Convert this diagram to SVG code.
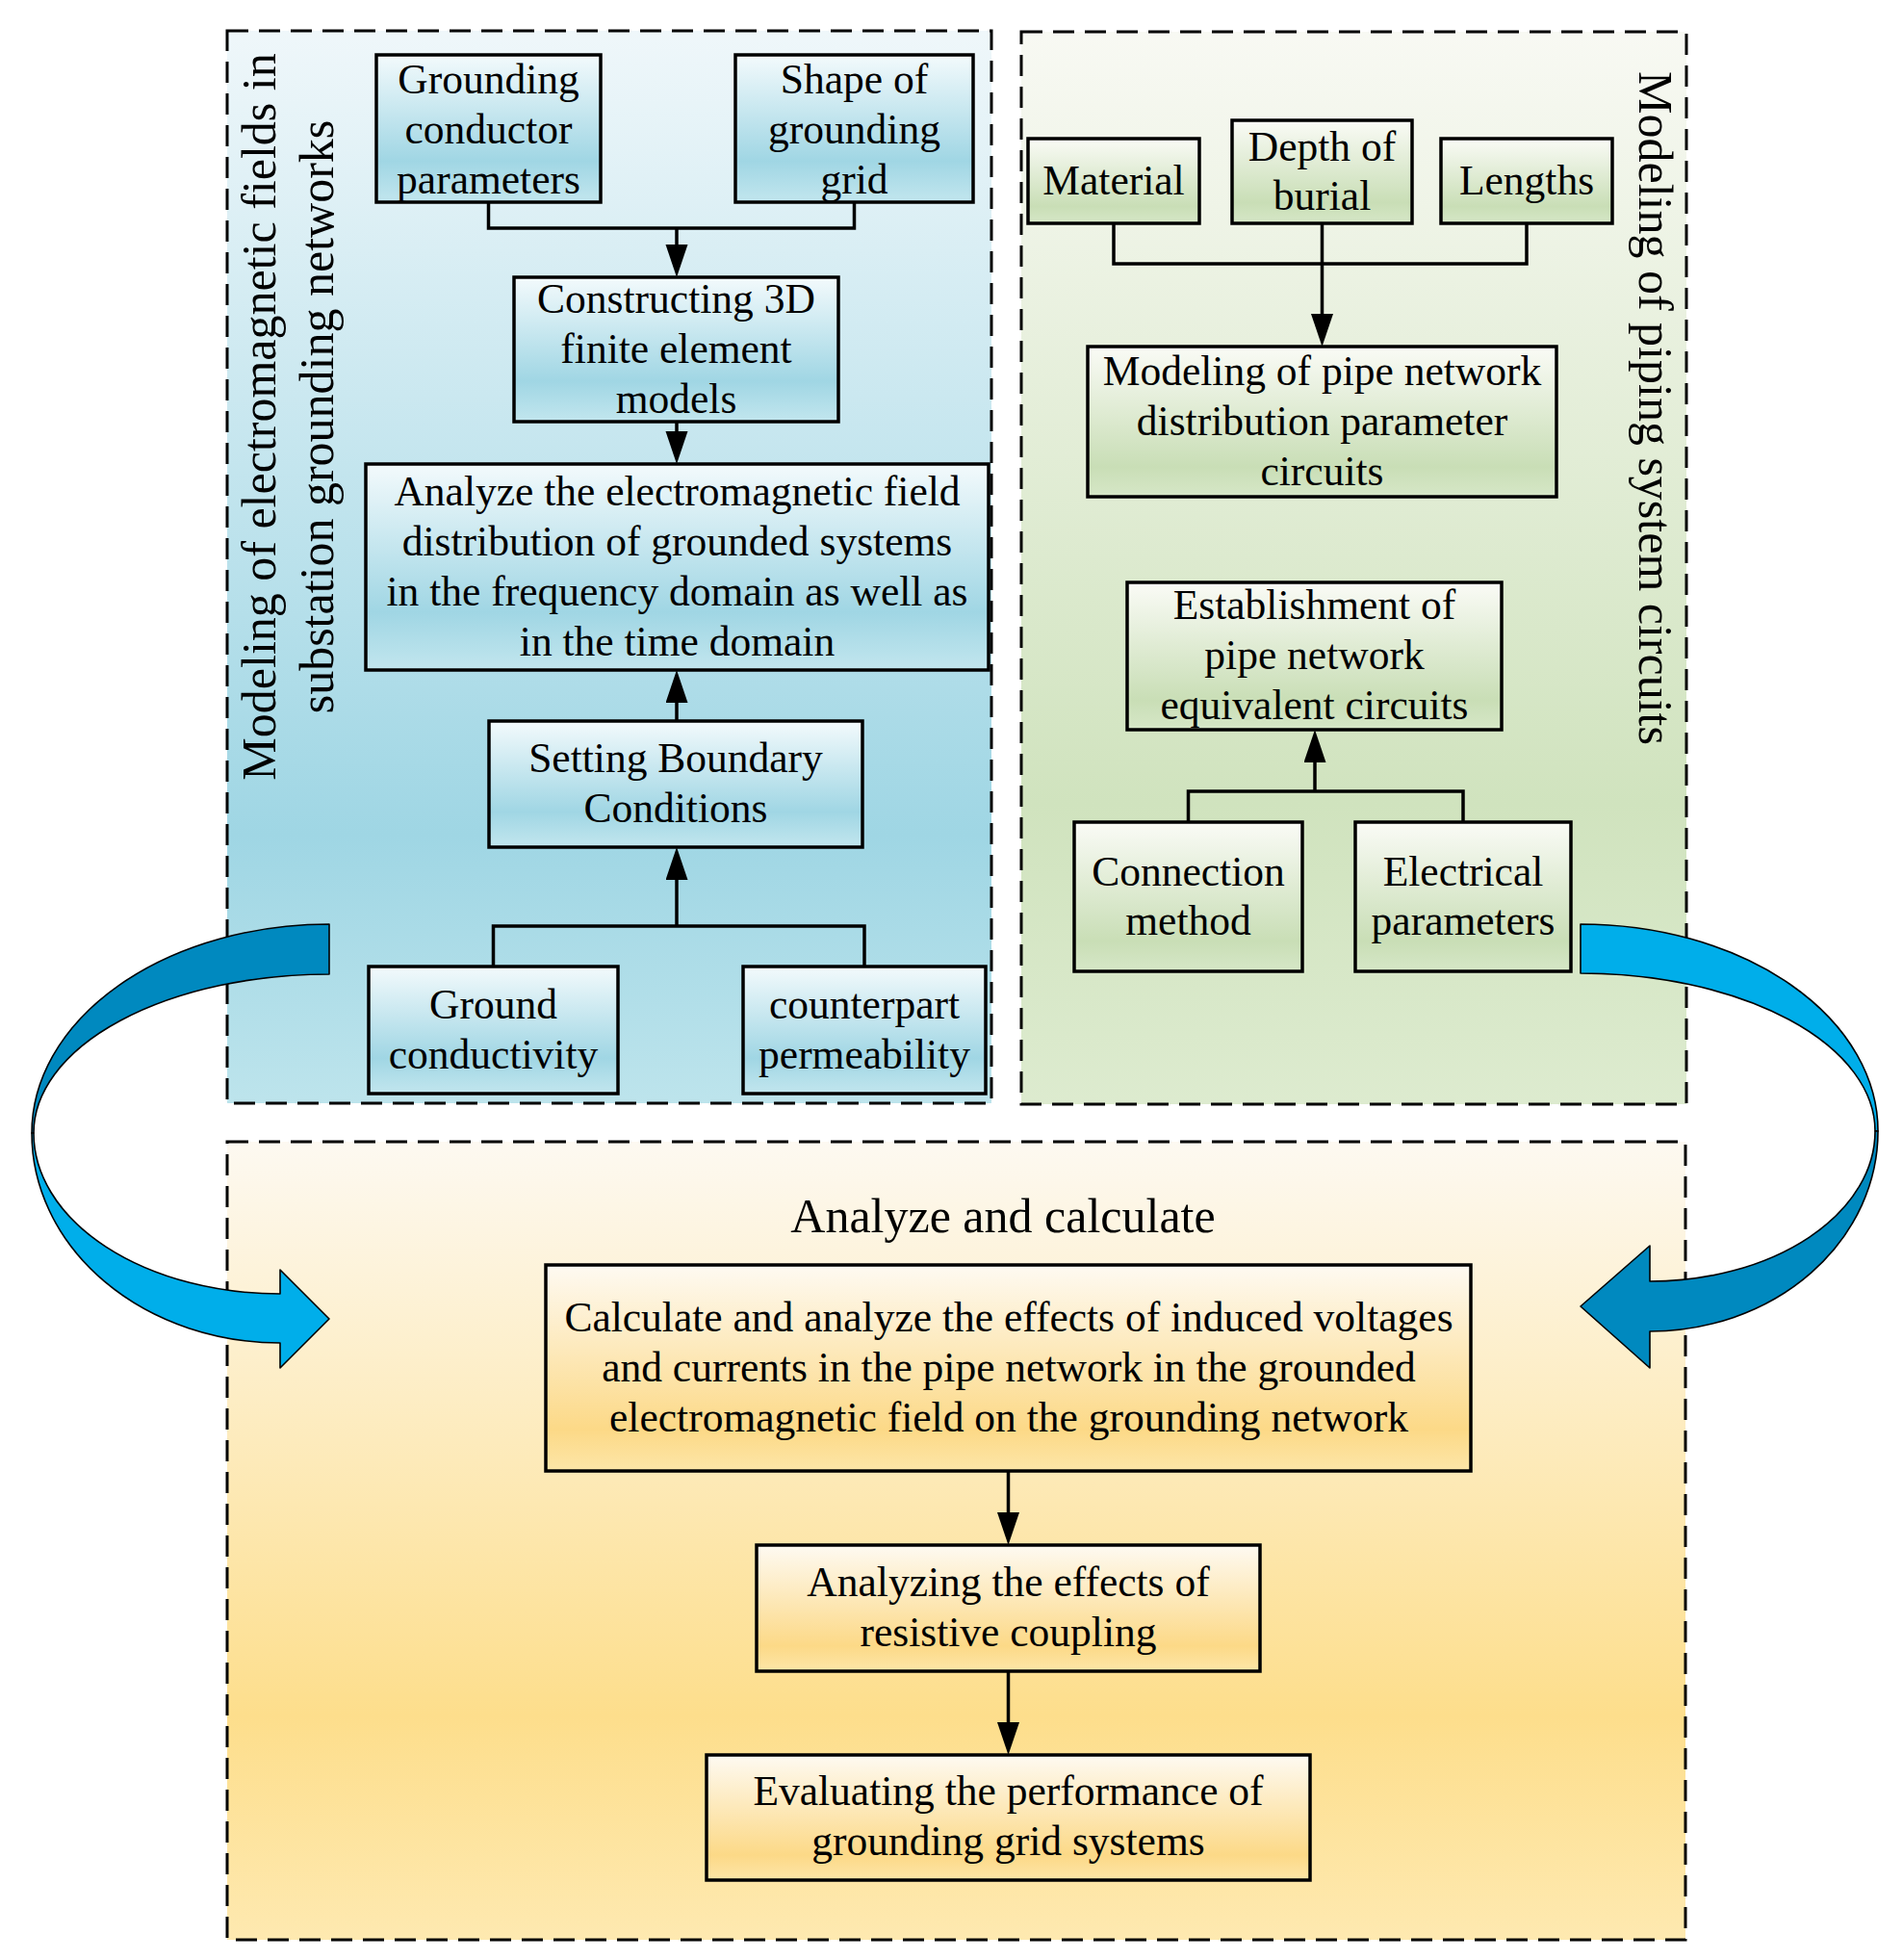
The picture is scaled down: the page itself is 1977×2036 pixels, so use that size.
<svg xmlns="http://www.w3.org/2000/svg" width="1977" height="2036" viewBox="0 0 1977 2036">
<defs>
<linearGradient id="gPanelBlue" x1="0" y1="0" x2="0" y2="1">
<stop offset="0" stop-color="#EFF7FA"/><stop offset="0.75" stop-color="#9FD6E4"/><stop offset="1" stop-color="#BDE4EC"/>
</linearGradient>
<linearGradient id="gBoxBlue" x1="0" y1="0" x2="0" y2="1">
<stop offset="0" stop-color="#F3FAFC"/><stop offset="0.72" stop-color="#A0D6E4"/><stop offset="1" stop-color="#C2E6EE"/>
</linearGradient>
<linearGradient id="gPanelGreen" x1="0" y1="0" x2="0" y2="1">
<stop offset="0" stop-color="#F8F9F3"/><stop offset="0.72" stop-color="#D0E3BE"/><stop offset="1" stop-color="#DDEBCF"/>
</linearGradient>
<linearGradient id="gBoxGreen" x1="0" y1="0" x2="0" y2="1">
<stop offset="0" stop-color="#FAFBF6"/><stop offset="0.8" stop-color="#C9DEB6"/><stop offset="1" stop-color="#D6E7C7"/>
</linearGradient>
<linearGradient id="gPanelYellow" x1="0" y1="0" x2="0" y2="1">
<stop offset="0" stop-color="#FDF9F1"/><stop offset="0.72" stop-color="#FDDE8C"/><stop offset="1" stop-color="#FEE9B0"/>
</linearGradient>
<linearGradient id="gBoxYellow" x1="0" y1="0" x2="0" y2="1">
<stop offset="0" stop-color="#FEFAF2"/><stop offset="0.8" stop-color="#FCD987"/><stop offset="1" stop-color="#FDE6A8"/>
</linearGradient>
<marker id="ah" markerUnits="userSpaceOnUse" markerWidth="36" markerHeight="24" refX="24" refY="11.5" orient="auto">
<path d="M0,0 L34,11.5 L0,23 Z" fill="#000"/>
</marker>
<style>
.panel{stroke:#000;stroke-width:3;stroke-dasharray:22 11}
.box{stroke:#000;stroke-width:3.5}
.blue{fill:url(#gBoxBlue)}
.green{fill:url(#gBoxGreen)}
.yellow{fill:url(#gBoxYellow)}
text{font-family:"Liberation Serif","Times New Roman",serif;fill:#000}
.t{font-size:43.5px;text-anchor:middle}
.title{font-size:50px;text-anchor:middle}
.conn{fill:none;stroke:#000;stroke-width:3.5}
.arr{stroke:#000;stroke-width:1.6;stroke-linejoin:round}
</style>
</defs>
<rect width="1977" height="2036" fill="#fff"/>

<g id="panel-left">
<rect class="panel" x="236" y="32" width="794" height="1114" fill="url(#gPanelBlue)"/>
<text class="title" transform="translate(286,433) rotate(-90)">Modeling of electromagnetic fields in</text>
<text class="title" transform="translate(346,433) rotate(-90)">substation grounding networks</text>
</g>
<g id="panel-right">
<rect class="panel" x="1061" y="33" width="691" height="1114" fill="url(#gPanelGreen)"/>
<text class="title" transform="translate(1703,424) rotate(90)">Modeling of piping system circuits</text>
</g>
<g id="panel-bottom">
<rect class="panel" x="236" y="1186" width="1515" height="829" fill="url(#gPanelYellow)"/>
<text class="title" x="1042" y="1280">Analyze and calculate</text>
</g>

<g id="node-grounding-conductor">
<rect class="box blue" x="391" y="57" width="233" height="153"/>
<text class="t" x="507.5" y="97">Grounding</text>
<text class="t" x="507.5" y="149">conductor</text>
<text class="t" x="507.5" y="201">parameters</text>
</g>
<g id="node-shape-grid">
<rect class="box blue" x="764" y="57" width="247" height="153"/>
<text class="t" x="887.5" y="97">Shape of</text>
<text class="t" x="887.5" y="149">grounding</text>
<text class="t" x="887.5" y="201">grid</text>
</g>
<g id="node-constructing">
<rect class="box blue" x="534" y="288" width="337" height="150"/>
<text class="t" x="702.5" y="325">Constructing 3D</text>
<text class="t" x="702.5" y="377">finite element</text>
<text class="t" x="702.5" y="429">models</text>
</g>
<g id="node-analyze-field">
<rect class="box blue" x="380" y="482" width="647" height="214"/>
<text class="t" x="703.5" y="525">Analyze the electromagnetic field</text>
<text class="t" x="703.5" y="577">distribution of grounded systems</text>
<text class="t" x="703.5" y="629">in the frequency domain as well as</text>
<text class="t" x="703.5" y="681">in the time domain</text>
</g>
<g id="node-boundary">
<rect class="box blue" x="508" y="749" width="388" height="131"/>
<text class="t" x="702" y="802">Setting Boundary</text>
<text class="t" x="702" y="854">Conditions</text>
</g>
<g id="node-ground-conductivity">
<rect class="box blue" x="383" y="1004" width="259" height="132"/>
<text class="t" x="512.5" y="1058">Ground</text>
<text class="t" x="512.5" y="1110">conductivity</text>
</g>
<g id="node-permeability">
<rect class="box blue" x="772" y="1004" width="252" height="132"/>
<text class="t" x="898" y="1058">counterpart</text>
<text class="t" x="898" y="1110">permeability</text>
</g>

<g id="node-material">
<rect class="box green" x="1068" y="144" width="178" height="88"/>
<text class="t" x="1157" y="202">Material</text>
</g>
<g id="node-depth">
<rect class="box green" x="1280" y="125" width="187" height="107"/>
<text class="t" x="1373.5" y="167">Depth of</text>
<text class="t" x="1373.5" y="218">burial</text>
</g>
<g id="node-lengths">
<rect class="box green" x="1497" y="144" width="178" height="88"/>
<text class="t" x="1586" y="202">Lengths</text>
</g>
<g id="node-pipe-model">
<rect class="box green" x="1130" y="360" width="487" height="156"/>
<text class="t" x="1373.5" y="400">Modeling of pipe network</text>
<text class="t" x="1373.5" y="452">distribution parameter</text>
<text class="t" x="1373.5" y="504">circuits</text>
</g>
<g id="node-establishment">
<rect class="box green" x="1171" y="605" width="389" height="153"/>
<text class="t" x="1365.5" y="643">Establishment of</text>
<text class="t" x="1365.5" y="695">pipe network</text>
<text class="t" x="1365.5" y="747">equivalent circuits</text>
</g>
<g id="node-connection">
<rect class="box green" x="1116" y="854" width="237" height="155"/>
<text class="t" x="1234.5" y="920">Connection</text>
<text class="t" x="1234.5" y="971">method</text>
</g>
<g id="node-electrical">
<rect class="box green" x="1408" y="854" width="224" height="155"/>
<text class="t" x="1520" y="920">Electrical</text>
<text class="t" x="1520" y="971">parameters</text>
</g>

<g id="node-calculate">
<rect class="box yellow" x="567" y="1314" width="961" height="214"/>
<text class="t" x="1048" y="1383">Calculate and analyze the effects of induced voltages</text>
<text class="t" x="1048" y="1435">and currents in the pipe network in the grounded</text>
<text class="t" x="1048" y="1487">electromagnetic field on the grounding network</text>
</g>
<g id="node-resistive">
<rect class="box yellow" x="786" y="1605" width="523" height="131"/>
<text class="t" x="1047.5" y="1658">Analyzing the effects of</text>
<text class="t" x="1047.5" y="1710">resistive coupling</text>
</g>
<g id="node-evaluating">
<rect class="box yellow" x="734" y="1823" width="627" height="130"/>
<text class="t" x="1047.5" y="1875">Evaluating the performance of</text>
<text class="t" x="1047.5" y="1927">grounding grid systems</text>
</g>

<g id="connectors">
<path class="conn" d="M507.5,210 V237 H887.5 V210"/>
<path class="conn" d="M703,237 V278" marker-end="url(#ah)"/>
<path class="conn" d="M703,438 V472" marker-end="url(#ah)"/>
<path class="conn" d="M703,749 V706" marker-end="url(#ah)"/>
<path class="conn" d="M512.5,1004 V962 H898 V1004"/>
<path class="conn" d="M703,962 V890" marker-end="url(#ah)"/>
<path class="conn" d="M1157,232 V274 H1586 V232"/>
<path class="conn" d="M1373.5,232 V350" marker-end="url(#ah)"/>
<path class="conn" d="M1234.5,854 V822 H1520 V854"/>
<path class="conn" d="M1366,822 V768" marker-end="url(#ah)"/>
<path class="conn" d="M1047.5,1528 V1595" marker-end="url(#ah)"/>
<path class="conn" d="M1047.5,1736 V1813" marker-end="url(#ah)"/>
</g>

<g id="arrow-left">
<path class="arr" fill="#0089BF" d="M342,960 A309,217 0 0 0 33,1177 L35,1177 A307,165 0 0 1 342,1012 Z"/>
<path class="arr" fill="#00AEEA" d="M33,1177 A258,218 0 0 0 291,1395 L291,1421 L342,1370 L291,1319 L291,1344 A256,167 0 0 1 35,1177 Z"/>
</g>
<g id="arrow-right">
<path class="arr" fill="#00AEEA" d="M1642,960 A309,215 0 0 1 1951,1175 L1948,1175 A306,164 0 0 0 1642,1011 Z"/>
<path class="arr" fill="#0089BF" d="M1951,1175 A237,208 0 0 1 1714,1383 L1714,1421 L1642,1357 L1714,1294 L1714,1331 A234,156 0 0 0 1948,1175 Z"/>
</g>
</svg>
